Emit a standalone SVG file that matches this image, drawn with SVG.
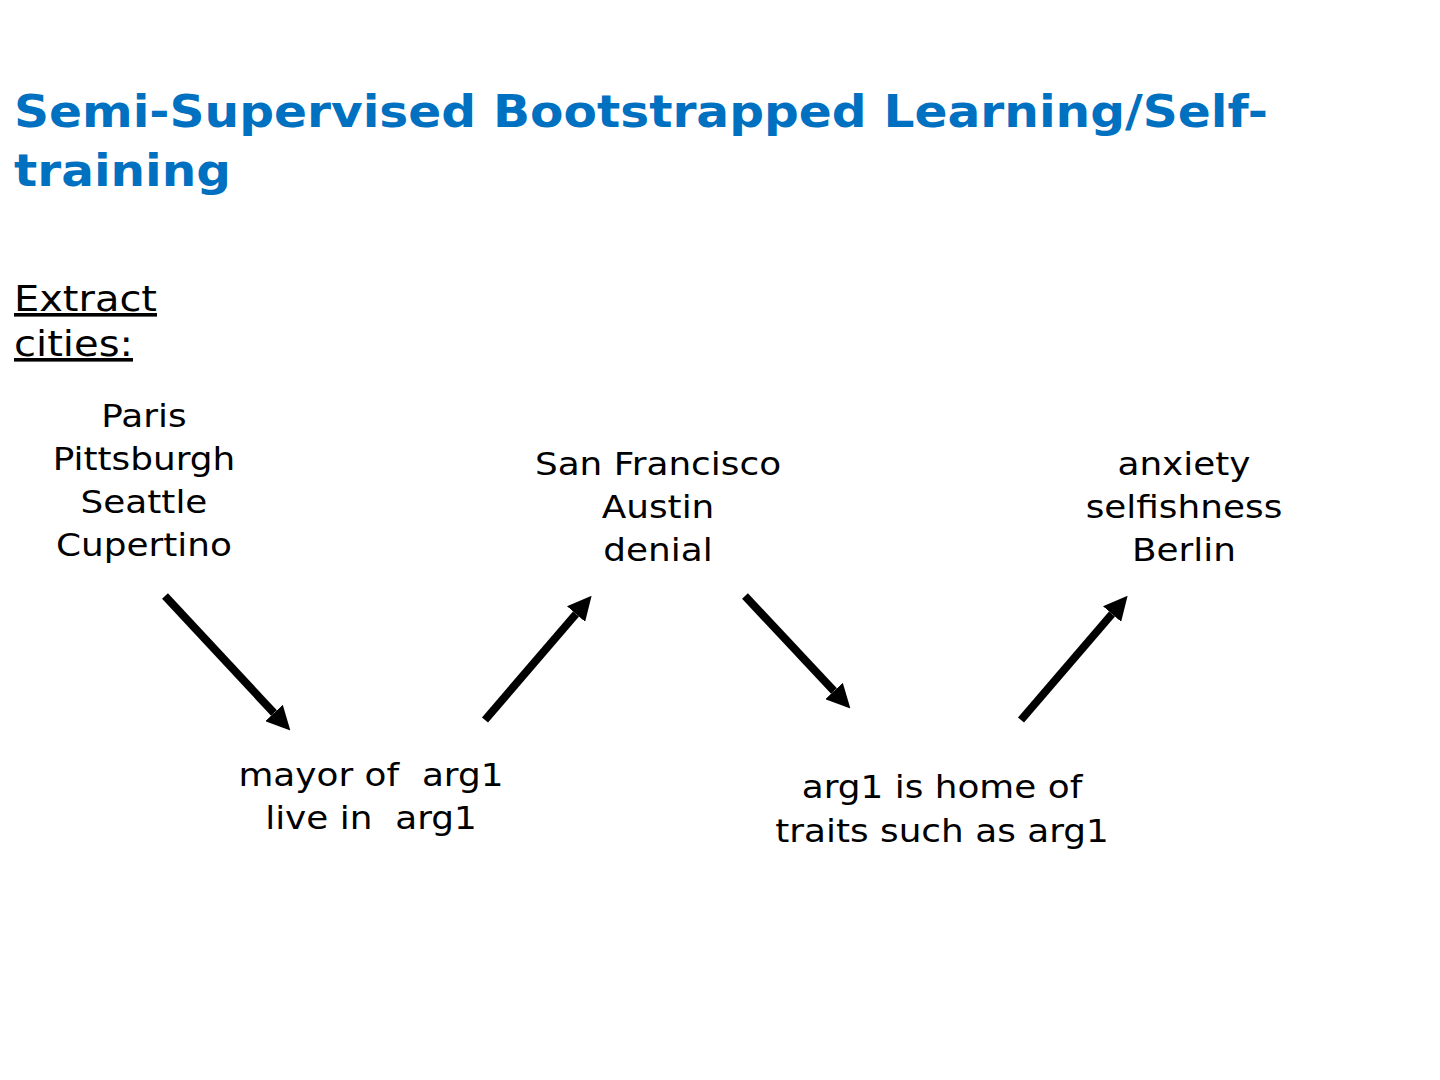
<svg xmlns="http://www.w3.org/2000/svg" width="1440" height="1080" viewBox="0 0 1440 1080">
<style>
.t{font-family:"DejaVu Sans",sans-serif;font-size:32px;fill:#000;text-anchor:middle;white-space:pre}
.h{font-family:"DejaVu Sans",sans-serif;font-size:44px;font-weight:bold;fill:#0070C0}
.a{stroke:#000;stroke-width:8;fill:none;marker-end:url(#ah)}
</style>
<defs><marker id="ah" markerUnits="strokeWidth" viewBox="0 0 3 3" refX="0" refY="1.5" markerWidth="3" markerHeight="3" orient="auto"><path d="M0,0 L3,1.5 L0,3 z" fill="#000"/></marker></defs>
<rect width="1440" height="1080" fill="#fff"/>
<g id="title"><text class="h" x="14" y="127" textLength="1254" lengthAdjust="spacingAndGlyphs">Semi-Supervised Bootstrapped Learning/Self-</text><text class="h" x="14" y="186" textLength="217" lengthAdjust="spacingAndGlyphs">training</text></g>
<g id="label" font-family="DejaVu Sans,sans-serif" font-size="36" text-decoration="underline"><text x="14" y="311" textLength="143" lengthAdjust="spacingAndGlyphs">Extract</text><text x="14" y="356" textLength="119" lengthAdjust="spacingAndGlyphs">cities:</text></g>
<g id="seeds" transform="translate(144 0) scale(1.12 1) translate(-144 0)"><text class="t" x="144" y="427">Paris</text><text class="t" x="144" y="470">Pittsburgh</text><text class="t" x="144" y="513">Seattle</text><text class="t" x="144" y="556">Cupertino</text></g>
<g id="patterns1" transform="translate(371 0) scale(1.12 1) translate(-371 0)"><text class="t" x="371" y="786">mayor of  arg1</text><text class="t" x="371" y="829">live in  arg1</text></g>
<g id="instances1" transform="translate(658 0) scale(1.12 1) translate(-658 0)"><text class="t" x="658" y="475">San Francisco</text><text class="t" x="658" y="518">Austin</text><text class="t" x="658" y="561">denial</text></g>
<g id="patterns2" transform="translate(942 0) scale(1.12 1) translate(-942 0)"><text class="t" x="942" y="798">arg1 is home of</text><text class="t" x="942" y="842">traits such as arg1</text></g>
<g id="instances2" transform="translate(1184 0) scale(1.12 1) translate(-1184 0)"><text class="t" x="1184" y="475">anxiety</text><text class="t" x="1184" y="518">selfishness</text><text class="t" x="1184" y="561">Berlin</text></g>
<g id="connectors">
<line class="a" x1="165" y1="596" x2="274" y2="713"/>
<line class="a" x1="485" y1="720" x2="576" y2="614"/>
<line class="a" x1="745" y1="596" x2="834" y2="691"/>
<line class="a" x1="1021" y1="720" x2="1112" y2="614"/>
</g>
</svg>
